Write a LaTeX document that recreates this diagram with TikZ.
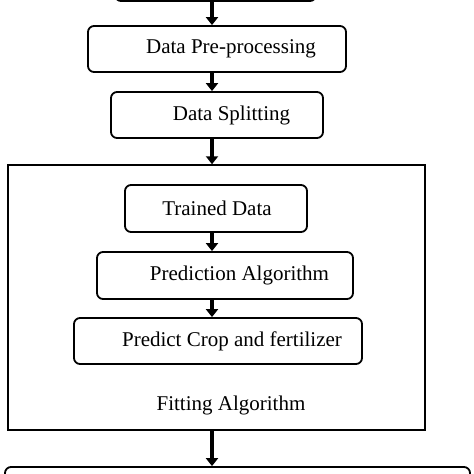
\documentclass[tikz,border=0pt]{standalone}
\usepackage{fontspec}
\setmainfont{Liberation Serif}
\usetikzlibrary{arrows.meta}

\begin{document}
\begin{tikzpicture}[x=1pt,y=-1pt,
  stage/.style={draw,line width=1.8pt,rounded corners=6pt,minimum height=46pt,inner sep=0pt},
  flow/.style={line width=4pt,-{Triangle[length=8pt,width=12pt]}},
  font=\fontsize{21}{25}\selectfont]
\useasboundingbox (0,0) rectangle (474,474);
\node[stage,minimum width=201pt] (src) at (215.5,-22) {};
\node[stage,minimum width=258pt] (pre) at (217,49) {\hspace*{28pt}Data Pre-processing};
\node[stage,minimum width=212pt] (split) at (217,115) {\hspace*{29pt}Data Splitting};
\node[draw,line width=1.5pt,minimum width=417pt,minimum height=265pt,inner sep=0pt] (fit) at (216.5,297.5) {};
\node[stage,minimum width=182pt,minimum height=47pt] (train) at (216,208.5) {\hspace*{2pt}Trained Data};
\node[stage,minimum width=256pt,minimum height=47pt] (algo) at (225,275.5) {\hspace*{29pt}Prediction Algorithm};
\node[stage,minimum width=288pt] (crop) at (218,341) {\hspace*{28pt}Predict Crop and fertilizer};
\node (fitlbl) at (231,405) {Fitting Algorithm};
\node[stage,minimum width=465pt] (out) at (237.5,490) {};
% arrows along one vertical line
\coordinate (ax) at (212,0);
\draw[flow] (src.south -| ax) -- (pre.north -| ax);
\draw[flow] (pre.south -| ax) -- (split.north -| ax);
\draw[flow] (split.south -| ax) -- (fit.north -| ax);
\draw[flow] (train.south -| ax) -- (algo.north -| ax);
\draw[flow] (algo.south -| ax) -- (crop.north -| ax);
\draw[flow] (fit.south -| ax) -- (out.north -| ax);
\end{tikzpicture}
\end{document}
